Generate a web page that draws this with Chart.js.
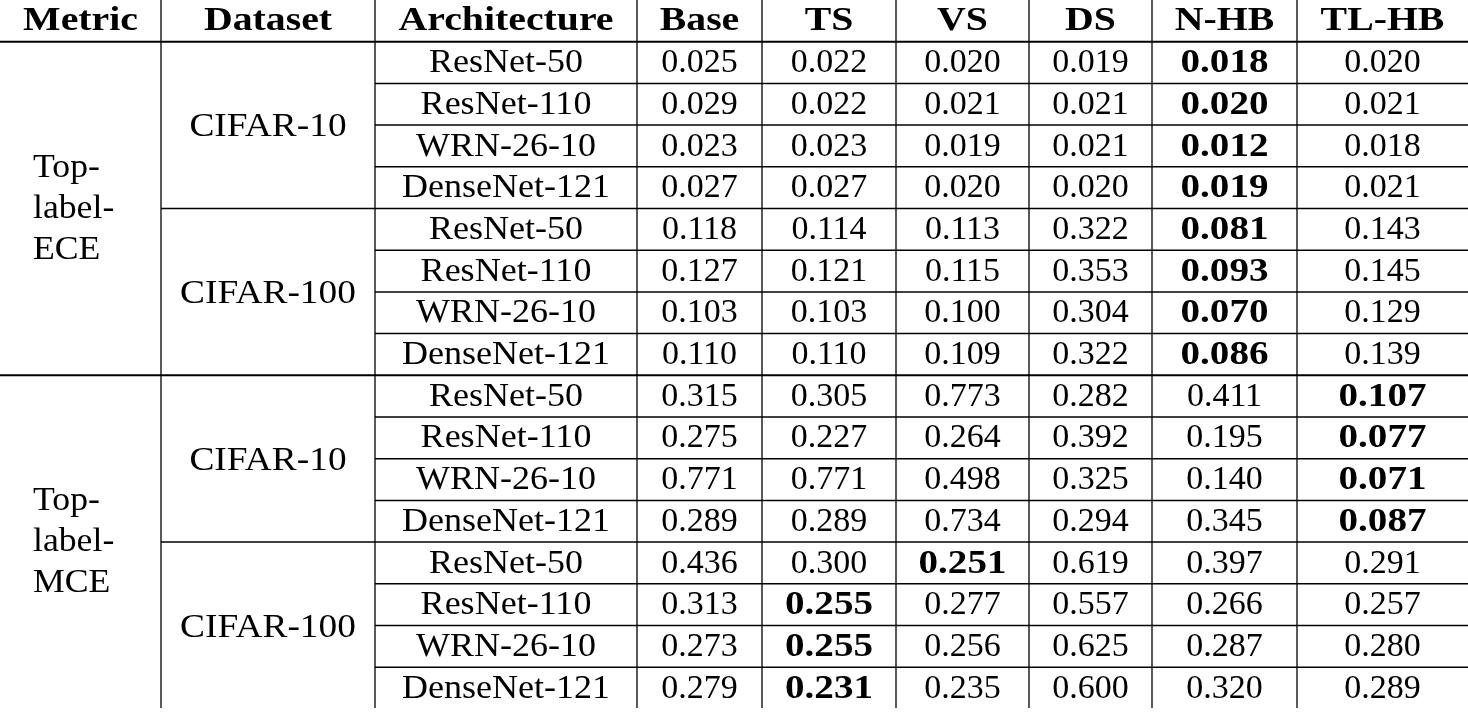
<!DOCTYPE html>
<html>
<head>
<meta charset="utf-8">
<script src="https://cdn.jsdelivr.net/npm/chart.js@4/dist/chart.umd.min.js"></script>
<style>
  html, body { margin: 0; padding: 0; background: #fff; }
  #wrap { width: 1468px; height: 713px; }
</style>
</head>
<body>
<div id="wrap"><canvas id="table-chart"></canvas></div>
<script>
const headers = ["Metric", "Dataset", "Architecture", "Base", "TS", "VS", "DS", "N-HB", "TL-HB"];
const metricLines = [["Top-", "label-", "ECE"], ["Top-", "label-", "MCE"]];
const datasetNames = ["CIFAR-10", "CIFAR-100"];
const architectures = ["ResNet-50", "ResNet-110", "WRN-26-10", "DenseNet-121"];

const base = [0.025, 0.029, 0.023, 0.027, 0.118, 0.127, 0.103, 0.110, 0.315, 0.275, 0.771, 0.289, 0.436, 0.313, 0.273, 0.279];
const ts   = [0.022, 0.022, 0.023, 0.027, 0.114, 0.121, 0.103, 0.110, 0.305, 0.227, 0.771, 0.289, 0.300, 0.255, 0.255, 0.231];
const vs   = [0.020, 0.021, 0.019, 0.020, 0.113, 0.115, 0.100, 0.109, 0.773, 0.264, 0.498, 0.734, 0.251, 0.277, 0.256, 0.235];
const ds   = [0.019, 0.021, 0.021, 0.020, 0.322, 0.353, 0.304, 0.322, 0.282, 0.392, 0.325, 0.294, 0.619, 0.557, 0.625, 0.600];
const nhb  = [0.018, 0.020, 0.012, 0.019, 0.081, 0.093, 0.070, 0.086, 0.411, 0.195, 0.140, 0.345, 0.397, 0.266, 0.287, 0.320];
const tlhb = [0.020, 0.021, 0.018, 0.021, 0.143, 0.145, 0.129, 0.139, 0.107, 0.077, 0.071, 0.087, 0.291, 0.257, 0.280, 0.289];
const methodValues = [base, ts, vs, ds, nhb, tlhb];

// layout (table units: x in px-like units, y in rows)
const colEdges = [0, 161, 375, 637, 762, 896, 1029, 1152, 1297, 1468];
const rowHeight = 41.7;
const nRows = base.length;
const FONT = '"Liberation Serif", "Times New Roman", serif';
const FS = 34;

function rowMin(i) {
    return Math.min(...methodValues.map(v => v[i]));
}

function drawText(ctx, text, x, y, bold, align, sx) {
    ctx.save();
    ctx.font = (bold ? "bold " : "") + FS + "px " + FONT;
    ctx.textAlign = align;
    ctx.textBaseline = "alphabetic";
    ctx.fillStyle = "#000";
    ctx.translate(x, y);
    ctx.scale(sx, 1);
    ctx.fillText(text, 0, 0);
    ctx.restore();
}

function hLine(ctx, x0, x1, y, w) {
    ctx.beginPath();
    ctx.lineWidth = w;
    ctx.strokeStyle = "#000";
    ctx.moveTo(x0, y);
    ctx.lineTo(x1, y);
    ctx.stroke();
}

const tablePlugin = {
    id: "tablePlugin",
    afterDatasetsDraw(chart) {
        const ctx = chart.ctx;
        const xs = chart.scales.x, ys = chart.scales.y;
        const X = v => xs.getPixelForValue(v);
        const Y = v => ys.getPixelForValue(v);
        const rh = Y(1) - Y(0);
        const left = X(colEdges[0]), right = X(colEdges[colEdges.length - 1]);

        // vertical rules
        ctx.save();
        for (let c = 1; c < colEdges.length - 1; c++) {
            ctx.beginPath();
            ctx.lineWidth = 1.3;
            ctx.strokeStyle = "#000";
            ctx.moveTo(X(colEdges[c]), Y(0));
            ctx.lineTo(X(colEdges[c]), Y(nRows + 1) - 1);
            ctx.stroke();
        }
        // horizontal rules
        hLine(ctx, left, right, Y(1), 2);
        hLine(ctx, left, right, Y(9), 2);
        for (let r = 1; r < nRows; r++) {
            if (r % 8 === 0) continue;
            const x0 = r % 4 === 0 ? X(colEdges[1]) : X(colEdges[2]);
            hLine(ctx, x0, right, Y(r + 1), 1.5);
        }
        ctx.restore();

        // header
        headers.forEach((h, c) => {
            const cx = (X(colEdges[c]) + X(colEdges[c + 1])) / 2;
            drawText(ctx, h, cx, Y(0) + 0.73 * rh, true, "center", 1.17);
        });

        // metric column
        metricLines.forEach((lines, m) => {
            const mid = (Y(1 + m * 8) + Y(9 + m * 8)) / 2 + 9;
            lines.forEach((t, k) => {
                drawText(ctx, t, X(colEdges[0]) + 33, mid + (k - 1) * 41, false, "left", 1.05);
            });
        });

        // dataset column
        for (let g = 0; g < 4; g++) {
            const mid = (Y(1 + g * 4) + Y(5 + g * 4)) / 2 + 11;
            const cx = (X(colEdges[1]) + X(colEdges[2])) / 2;
            drawText(ctx, datasetNames[g % 2], cx, mid, false, "center", 1.1);
        }

        // architecture column
        for (let i = 0; i < nRows; i++) {
            const cx = (X(colEdges[2]) + X(colEdges[3])) / 2;
            drawText(ctx, architectures[i % 4], cx, Y(i + 1) + 0.73 * rh, false, "center", 1.06);
        }

        // value cells, placed at the dataset points
        chart.data.datasets.forEach((dsItem, j) => {
            const meta = chart.getDatasetMeta(j);
            meta.data.forEach((pt, i) => {
                const v = methodValues[j][i];
                const bold = v === rowMin(i);
                drawText(ctx, v.toFixed(3), pt.x, pt.y + 0.23 * rh, bold, "center", bold ? 1.15 : 1.0);
            });
        });
    }
};

const ctx = document.getElementById("table-chart").getContext("2d");
new Chart(ctx, {
    type: "scatter",
    data: {
        datasets: methodValues.map((vals, j) => ({
            label: headers[j + 3],
            data: vals.map((v, i) => ({x: (colEdges[j + 3] + colEdges[j + 4]) / 2, y: i + 1.5})),
            pointRadius: 0,
            showLine: false
        }))
    },
    options: {
        responsive: true,
        maintainAspectRatio: false,
        animation: false,
        layout: {padding: 0},
        scales: {
            x: {type: "linear", min: 0, max: 1468, display: false},
            y: {type: "linear", min: 0, max: 713 / rowHeight, reverse: true, display: false}
        },
        plugins: {
            legend: {display: false},
            tooltip: {enabled: false}
        }
    },
    plugins: [tablePlugin]
});
</script>
</body>
</html>
